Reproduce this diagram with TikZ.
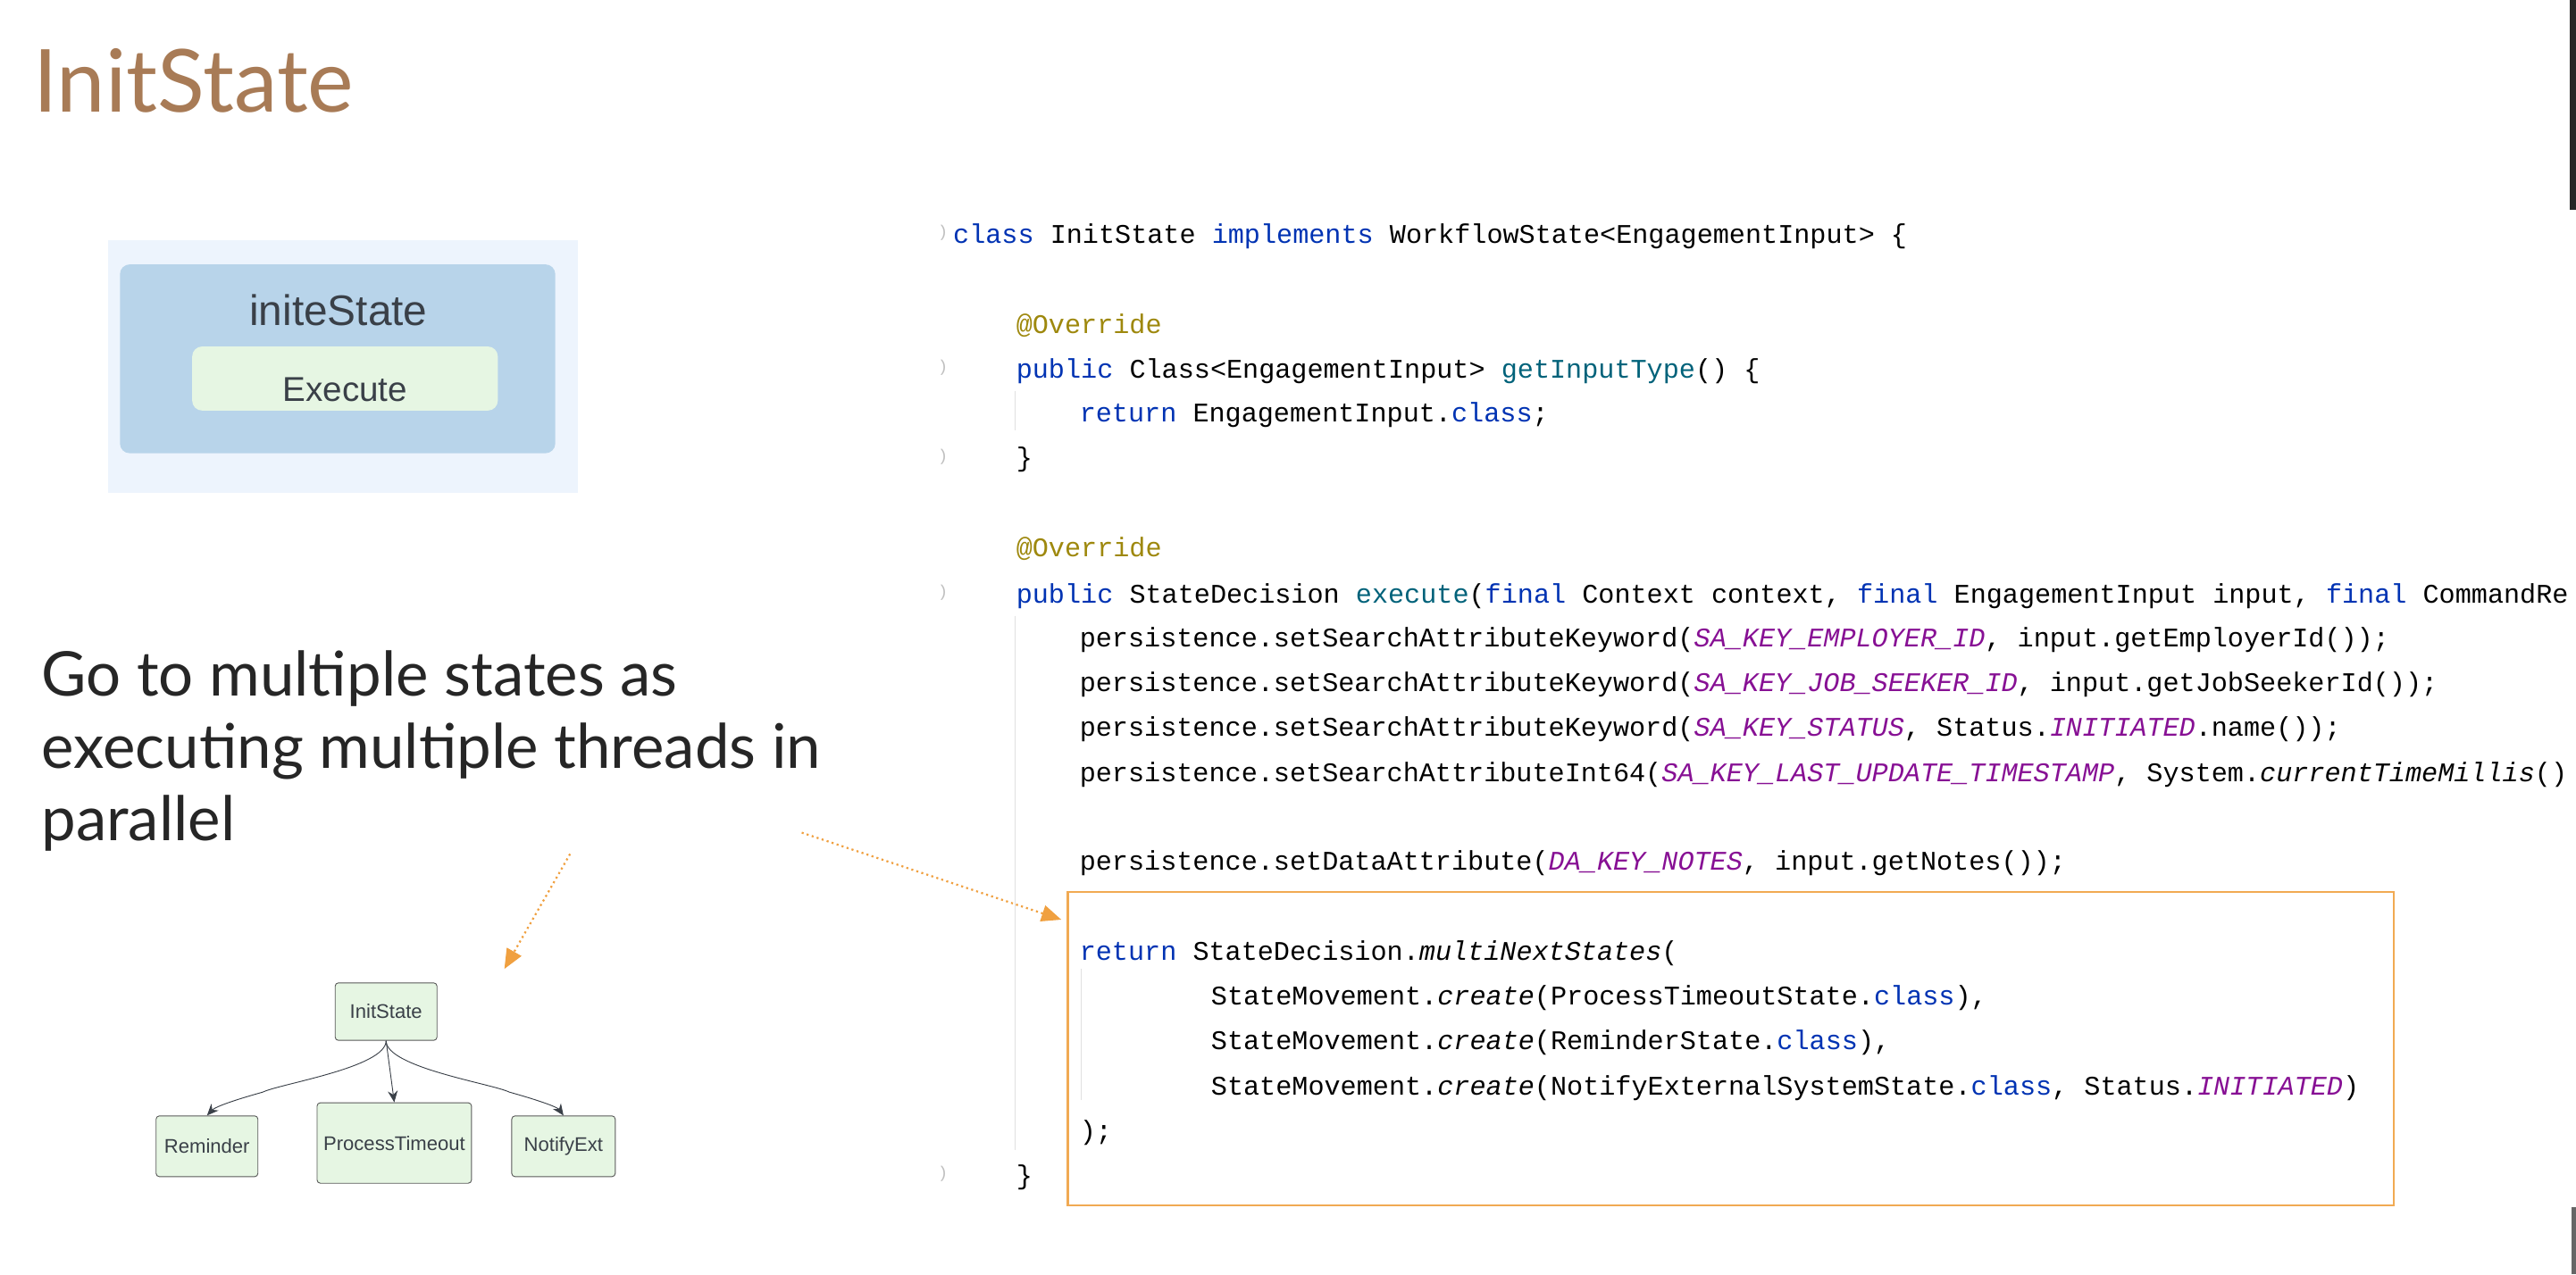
\documentclass[tikz,border=0pt]{standalone}
\usepackage{fontspec}
\setmainfont{Lato}
\newfontfamily\codefont{Liberation Mono}
\newfontfamily\diafont{Liberation Sans}
\usetikzlibrary{arrows.meta}
\definecolor{kw}{HTML}{0033B3}
\definecolor{ann}{HTML}{9E880D}
\definecolor{mth}{HTML}{00627A}
\definecolor{cst}{HTML}{871094}
\definecolor{title}{HTML}{A87B56}
\definecolor{org}{HTML}{F0A040}
\definecolor{gfill}{HTML}{E6F6E3}
\definecolor{bfill}{HTML}{B8D4EA}
\definecolor{ofill}{HTML}{EDF4FD}
\definecolor{dtext}{HTML}{3A4048}
\newcommand{\K}[1]{\textcolor{kw}{#1}}
\newcommand{\Cs}[1]{\textcolor{cst}{\itshape #1}}
\newcommand{\Mt}[1]{\textcolor{mth}{#1}}
\begin{document}
\begin{tikzpicture}[x=1pt,y=-1pt,
  code/.style={anchor=base west,inner sep=0,font=\codefont\fontsize{16.4}{16.4}\selectfont},
  gbox/.style={draw=gray!70!black,fill=gfill,rounded corners=2pt,line width=0.5pt,font=\diafont\fontsize{12}{12}\selectfont,text=dtext,align=center},
  garr/.style={draw=dtext,line width=0.5pt,-{Stealth[length=7pt,width=6pt]}},
  oarr/.style={draw=org,line width=1.2pt,dotted,-{Triangle[length=12pt,width=10pt]}}]
\useasboundingbox (0,0) rectangle (1568,776);
\fill[white] (0,0) rectangle (1568,776);
\node[anchor=base west,inner sep=0,text=title,font=\fontsize{53}{53}\selectfont] (title) at (20,68) {InitState};
% top-left diagram
\fill[ofill] (66,146) rectangle (352,300);
\fill[bfill,rounded corners=6pt] (73,161) rectangle (338,276);
\node[font=\diafont\fontsize{26}{26}\selectfont,text=dtext] (ini) at (206,189) {initeState};
\fill[gfill,rounded corners=6pt] (117,211) rectangle (303,250);
\node[font=\diafont\fontsize{21}{21}\selectfont,text=dtext] (exe) at (210,237) {Execute};
% text
\node[anchor=base west,inner sep=0,align=left,font=\fontsize{37.5}{44}\selectfont,text=black!85] (desc) at (25,512) {Go to multiple states as\\executing multiple threads in\\parallel};
% graph
\node[gbox,minimum width=62pt,minimum height=35pt] (is) at (235,616) {InitState};
\node[gbox,minimum width=62pt,minimum height=37pt] (rem) at (126,698) {Reminder};
\node[gbox,minimum width=94pt,minimum height=49pt] (pt) at (240,696) {ProcessTimeout};
\node[gbox,minimum width=63pt,minimum height=37pt] (nx) at (343,698) {NotifyExt};
\draw[garr] (is.south) .. controls (235,650) and (170,660) .. (160,665) .. controls (135,672) and (130,675) .. (rem.north);
\draw[garr] (is.south) -- (pt.north);
\draw[garr] (is.south) .. controls (235,650) and (300,660) .. (310,665) .. controls (335,672) and (340,675) .. (nx.north);
% orange arrows
\coordinate (o1) at (347,520); \coordinate (o1e) at (307,590);
\coordinate (o2) at (488,507); \coordinate (o2e) at (646,560);
\draw[oarr] (o1) -- (o1e);
\draw[oarr] (o2) -- (o2e);
% code
\draw[black!12,line width=0.8pt] (618,238) -- (618,262);
\draw[black!12,line width=0.8pt] (618,375) -- (618,700);
\draw[black!12,line width=0.8pt] (658,590) -- (658,670);
\foreach \yy in {142,224,278,361,715} \node[text=black!25,font=\codefont\fontsize{10}{10}\selectfont] at (574,\yy) {)};
\node[code] (c1) at (580,148) {\K{class} InitState \K{implements} WorkflowState<EngagementInput> \{};
\node[code,text=ann] (c2) at (618.4,203) {@Override};
\node[code] (c3) at (618.4,230) {\K{public} Class<EngagementInput> \Mt{getInputType}() \{};
\node[code] (c4) at (657,257) {\K{return} EngagementInput.\K{class};};
\node[code] (c5) at (618.4,284) {\}};
\node[code,text=ann] (c6) at (618.4,339) {@Override};
\node[code] (c7) at (618.4,367) {\K{public} StateDecision \Mt{execute}(\K{final} Context context, \K{final} EngagementInput input, \K{final} CommandRe};
\node[code] (c8) at (657,394) {persistence.setSearchAttributeKeyword(\Cs{SA\_KEY\_EMPLOYER\_ID}, input.getEmployerId());};
\node[code] (c9) at (657,421) {persistence.setSearchAttributeKeyword(\Cs{SA\_KEY\_JOB\_SEEKER\_ID}, input.getJobSeekerId());};
\node[code] (c10) at (657,448) {persistence.setSearchAttributeKeyword(\Cs{SA\_KEY\_STATUS}, Status.\Cs{INITIATED}.name());};
\node[code] (c11) at (657,476) {persistence.setSearchAttributeInt64(\Cs{SA\_KEY\_LAST\_UPDATE\_TIMESTAMP}, System.\textit{currentTimeMillis}()};
\node[code] (c12) at (657,530) {persistence.setDataAttribute(\Cs{DA\_KEY\_NOTES}, input.getNotes());};
\node[code] (c13) at (657,585) {\K{return} StateDecision.\textit{multiNextStates}(};
\node[code] (c14) at (737,612) {StateMovement.\textit{create}(ProcessTimeoutState.\K{class}),};
\node[code] (c15) at (737,639) {StateMovement.\textit{create}(ReminderState.\K{class}),};
\node[code] (c16) at (737,667) {StateMovement.\textit{create}(NotifyExternalSystemState.\K{class}, Status.\Cs{INITIATED})};
\node[code] (c17) at (657,694) {);};
\node[code] (c18) at (618.4,721) {\}};
\draw[org!90,line width=1.2pt] (650,543) rectangle (1457,734);
% right edge bars
\fill[black!85] (1564,0) rectangle (1568,128);
\fill[black!60] (1565,735) rectangle (1568,776);
\end{tikzpicture}
\end{document}
